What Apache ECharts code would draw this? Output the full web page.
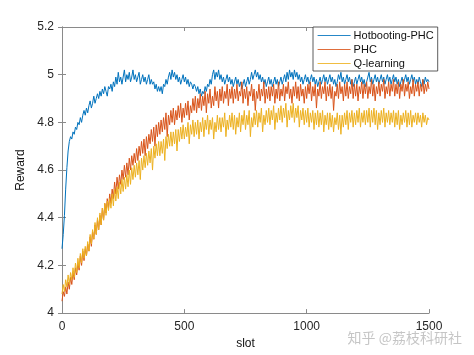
<!DOCTYPE html>
<html>
<head>
<meta charset="utf-8">
<script src="https://cdn.jsdelivr.net/npm/echarts@6/dist/echarts.min.js"></script>
<style>html,body{margin:0;padding:0;background:#fff}#c{width:474px;height:355px}</style>
</head>
<body>
<div id="c"></div>
<script>
const seriesNames = ['Hotbooting-PHC', 'PHC', 'Q-learning'];
const xTicks = [0, 500, 1000, 1500];
const yTicks = [4, 4.2, 4.4, 4.6, 4.8, 5, 5.2];
const slotStep = 5;

const hotbooting = [
4.27,4.33,4.41,4.52,4.61,4.68,4.72,4.74,4.73,4.76,
4.75,4.78,4.77,4.80,4.79,4.82,4.80,4.83,4.85,4.83,
4.86,4.84,4.87,4.89,4.86,4.88,4.91,4.88,4.90,4.92,
4.90,4.93,4.91,4.94,4.92,4.95,4.93,4.91,4.95,4.94,
4.96,4.93,4.97,4.95,4.99,4.96,5.01,4.97,4.99,4.96,
4.99,5.02,4.97,5.00,4.98,5.01,4.97,4.99,5.02,4.98,
5.00,4.97,4.99,5.01,4.96,4.98,5.00,4.97,4.99,4.96,
4.98,5.00,4.96,4.98,4.96,4.97,4.94,4.96,4.93,4.95,
4.93,4.95,4.92,4.96,4.95,4.98,4.96,4.99,5.01,4.98,
5.02,4.99,5.01,4.98,5.00,4.97,4.99,4.96,4.98,5.00,
4.97,4.99,4.96,4.98,4.95,4.97,4.96,4.94,4.96,4.95,
4.93,4.95,4.92,4.94,4.91,4.93,4.92,4.95,4.93,4.96,
4.95,4.98,4.96,5.00,5.02,4.98,5.01,4.99,5.02,4.98,
5.00,4.97,4.99,4.96,4.98,5.00,4.97,4.99,4.96,4.98,
4.95,4.97,4.99,4.96,4.98,4.95,4.97,4.94,4.96,4.98,
4.95,4.97,4.99,4.96,4.98,5.01,4.98,5.00,5.02,4.99,
5.01,4.98,5.00,4.97,4.99,4.96,4.98,4.95,4.97,4.99,
4.96,4.98,4.95,4.97,4.99,4.96,4.98,4.95,4.97,4.99,
4.96,4.98,5.00,4.97,5.01,4.98,5.02,4.99,5.01,4.98,
5.02,4.99,5.01,4.98,5.00,4.97,4.99,4.96,4.98,5.00,
4.97,4.99,4.96,4.98,5.00,4.97,4.99,4.96,4.98,4.95,
4.97,4.99,4.96,4.98,5.00,4.97,4.99,4.96,4.98,5.00,
4.97,4.99,4.96,4.98,4.95,4.97,5.00,4.98,5.01,4.97,
4.99,4.96,4.98,5.00,4.97,4.99,4.96,4.98,4.95,4.97,
4.99,4.96,4.98,5.00,4.97,4.99,4.96,4.98,4.95,4.97,
4.99,5.01,4.97,4.99,4.96,4.98,5.00,4.97,4.99,4.96,
4.98,5.00,4.97,4.99,4.96,4.98,5.00,4.97,4.99,4.96,
4.98,5.00,4.97,4.99,4.96,4.98,4.95,4.97,4.99,4.96,
4.98,5.00,4.97,4.99,4.96,4.98,5.00,4.97,4.99,4.96,
4.98,4.96,4.99,4.97,4.95,4.98,4.96,4.99,4.97,4.98,
4.97];

const phc = [
4.05,4.09,4.07,4.11,4.08,4.13,4.10,4.15,4.12,4.17,
4.14,4.19,4.16,4.21,4.18,4.24,4.20,4.26,4.22,4.27,
4.24,4.29,4.26,4.32,4.28,4.34,4.31,4.37,4.33,4.39,
4.35,4.41,4.37,4.44,4.39,4.46,4.42,4.48,4.44,4.50,
4.46,4.52,4.48,4.55,4.50,4.57,4.52,4.58,4.54,4.60,
4.56,4.62,4.57,4.63,4.58,4.65,4.60,4.66,4.62,4.67,
4.63,4.69,4.64,4.70,4.66,4.72,4.67,4.73,4.66,4.74,
4.69,4.75,4.71,4.77,4.72,4.78,4.70,4.79,4.74,4.80,
4.75,4.81,4.76,4.82,4.77,4.84,4.74,4.83,4.79,4.85,
4.80,4.86,4.79,4.85,4.81,4.87,4.82,4.88,4.80,4.86,
4.82,4.88,4.83,4.89,4.81,4.87,4.84,4.90,4.85,4.91,
4.84,4.90,4.86,4.92,4.85,4.91,4.87,4.93,4.84,4.92,
4.88,4.94,4.86,4.91,4.87,4.95,4.89,4.93,4.86,4.94,
4.89,4.95,4.88,4.93,4.90,4.96,4.87,4.94,4.90,4.95,
4.88,4.94,4.90,4.96,4.89,4.93,4.91,4.97,4.88,4.94,
4.90,4.95,4.87,4.93,4.91,4.96,4.89,4.94,4.85,4.93,
4.90,4.96,4.89,4.94,4.91,4.97,4.88,4.94,4.90,4.95,
4.89,4.95,4.91,4.96,4.88,4.94,4.90,4.97,4.89,4.94,
4.91,4.96,4.89,4.95,4.92,4.97,4.90,4.94,4.88,4.95,
4.91,4.97,4.90,4.95,4.89,4.96,4.91,4.94,4.88,4.95,
4.90,4.96,4.92,4.97,4.89,4.95,4.91,4.96,4.86,4.94,
4.91,4.97,4.90,4.95,4.92,4.97,4.89,4.95,4.91,4.96,
4.90,4.95,4.85,4.93,4.91,4.96,4.90,4.97,4.92,4.95,
4.89,4.96,4.91,4.97,4.90,4.95,4.92,4.98,4.90,4.96,
4.91,4.96,4.89,4.95,4.92,4.97,4.90,4.96,4.92,4.97,
4.90,4.95,4.92,4.98,4.91,4.96,4.89,4.95,4.92,4.97,
4.91,4.96,4.93,4.98,4.90,4.95,4.92,4.97,4.91,4.96,
4.93,4.98,4.91,4.96,4.92,4.97,4.90,4.96,4.93,4.98,
4.91,4.96,4.93,4.97,4.90,4.95,4.92,4.98,4.91,4.96,
4.93,4.97,4.91,4.96,4.93,4.98,4.92,4.96,4.93,4.97,
4.94];

const qlearning = [
4.08,4.12,4.09,4.14,4.11,4.16,4.12,4.17,4.14,4.19,
4.15,4.21,4.17,4.23,4.19,4.25,4.21,4.27,4.23,4.28,
4.24,4.30,4.26,4.33,4.29,4.35,4.31,4.38,4.33,4.40,
4.35,4.42,4.37,4.44,4.39,4.46,4.41,4.47,4.43,4.48,
4.44,4.50,4.45,4.52,4.47,4.53,4.48,4.55,4.50,4.56,
4.51,4.57,4.52,4.58,4.53,4.60,4.54,4.61,4.56,4.62,
4.57,4.63,4.58,4.64,4.56,4.65,4.60,4.66,4.61,4.67,
4.62,4.68,4.63,4.69,4.60,4.70,4.65,4.71,4.66,4.72,
4.66,4.72,4.67,4.73,4.64,4.74,4.69,4.75,4.70,4.76,
4.70,4.76,4.71,4.77,4.68,4.77,4.72,4.78,4.73,4.79,
4.73,4.78,4.74,4.80,4.71,4.79,4.75,4.81,4.74,4.80,
4.75,4.81,4.73,4.80,4.76,4.82,4.74,4.81,4.77,4.83,
4.75,4.81,4.77,4.82,4.73,4.80,4.76,4.83,4.77,4.82,
4.76,4.82,4.78,4.84,4.74,4.81,4.77,4.83,4.78,4.84,
4.77,4.83,4.75,4.82,4.78,4.84,4.76,4.83,4.79,4.85,
4.77,4.83,4.79,4.85,4.74,4.82,4.78,4.84,4.79,4.85,
4.78,4.84,4.80,4.86,4.76,4.83,4.79,4.85,4.80,4.86,
4.79,4.85,4.81,4.87,4.77,4.84,4.80,4.86,4.81,4.87,
4.80,4.86,4.82,4.88,4.78,4.85,4.81,4.87,4.82,4.88,
4.80,4.86,4.82,4.87,4.78,4.85,4.81,4.86,4.79,4.85,
4.80,4.86,4.78,4.84,4.80,4.85,4.77,4.84,4.79,4.85,
4.78,4.84,4.79,4.85,4.76,4.83,4.79,4.84,4.77,4.84,
4.78,4.83,4.76,4.82,4.79,4.84,4.77,4.83,4.75,4.83,
4.78,4.84,4.79,4.85,4.77,4.84,4.80,4.85,4.78,4.84,
4.79,4.85,4.80,4.86,4.78,4.84,4.80,4.85,4.79,4.85,
4.80,4.86,4.78,4.85,4.80,4.86,4.79,4.85,4.77,4.84,
4.79,4.85,4.80,4.86,4.78,4.84,4.80,4.85,4.79,4.84,
4.80,4.85,4.78,4.84,4.79,4.85,4.77,4.83,4.79,4.84,
4.80,4.85,4.78,4.84,4.79,4.85,4.78,4.83,4.80,4.84,
4.79,4.84,4.80,4.83,4.78,4.84,4.80,4.83,4.79,4.82,
4.81];

const colors = ['#0072BD', '#D95319', '#EDB120'];

function pairs(arr) {
  return arr.map((v, i) => [i * slotStep, v]);
}

const chart = echarts.init(document.getElementById('c'), null, {renderer: 'canvas'});
const axisColor = '#262626';
const boxColor = '#8a8a8a';
const font = 'Liberation Sans, Arial, Helvetica, sans-serif';

const xMin = xTicks[0], xMax = xTicks[xTicks.length - 1];
const yMin = yTicks[0], yMax = yTicks[yTicks.length - 1];

chart.setOption({
  animation: false,
  backgroundColor: '#fff',
  textStyle: {fontFamily: font},
  grid: {left: 62, right: 45, top: 27, bottom: 40, containLabel: false},
  legend: {
    data: seriesNames.map((n, i) => ({
      name: n,
      itemStyle: {opacity: 0},
      lineStyle: {color: colors[i], width: 1.2, opacity: 0.85}
    })),
    orient: 'vertical',
    left: 313, top: 27,
    padding: [3, 4, 2, 4],
    itemGap: 3,
    itemWidth: 33, itemHeight: 11,
    backgroundColor: '#fff',
    borderColor: '#333',
    borderWidth: 0.8,
    textStyle: {fontSize: 11, color: '#111', fontFamily: font, padding: [0, 0, 0, -2]}
  },
  xAxis: [{
    type: 'value', min: xMin, max: xMax, interval: 500, position: 'bottom',
    name: 'slot', nameLocation: 'middle', nameGap: 22,
    nameTextStyle: {fontSize: 12, color: '#111', fontFamily: font},
    axisLine: {show: true, lineStyle: {color: boxColor, width: 1}},
    axisTick: {show: true, inside: true, length: 4, lineStyle: {color: boxColor}},
    axisLabel: {fontSize: 12, color: axisColor, margin: 8, fontFamily: font, formatter: v => String(v)},
    splitLine: {show: false}
  }, {
    type: 'value', min: xMin, max: xMax, interval: 500, position: 'top',
    axisLine: {show: true, lineStyle: {color: boxColor, width: 1}},
    axisTick: {show: true, inside: true, length: 4, lineStyle: {color: boxColor}},
    axisLabel: {show: false}, splitLine: {show: false}
  }],
  yAxis: [{
    type: 'value', min: yMin, max: yMax, interval: 0.2, position: 'left',
    name: 'Reward', nameLocation: 'middle', nameGap: 26,
    nameTextStyle: {fontSize: 12, color: '#111', fontFamily: font},
    axisLine: {show: true, lineStyle: {color: boxColor, width: 1}},
    axisTick: {show: true, inside: true, length: 4, lineStyle: {color: boxColor}},
    axisLabel: {fontSize: 12, color: axisColor, margin: 8, fontFamily: font},
    splitLine: {show: false}
  }, {
    type: 'value', min: yMin, max: yMax, interval: 0.2, position: 'right',
    axisLine: {show: true, lineStyle: {color: boxColor, width: 1}},
    axisTick: {show: true, inside: true, length: 4, lineStyle: {color: boxColor}},
    axisLabel: {show: false}, splitLine: {show: false}
  }],
  series: [
    {name: seriesNames[0], type: 'line', data: pairs(hotbooting), symbol: 'none', color: colors[0], lineStyle: {width: 1, color: colors[0]}, z: 3},
    {name: seriesNames[1], type: 'line', data: pairs(phc), symbol: 'none', color: colors[1], lineStyle: {width: 1, color: colors[1]}, z: 4},
    {name: seriesNames[2], type: 'line', data: pairs(qlearning), symbol: 'none', color: colors[2], lineStyle: {width: 1, color: colors[2]}, z: 5}
  ],
  graphic: [{
    type: 'text', right: 12, bottom: 10, z: 100,
    style: {text: '知乎 @荔枝科研社', fontSize: 14, fill: 'rgba(150,150,150,0.55)', fontFamily: 'Noto Sans CJK SC, sans-serif'}
  }]
});
</script>
</body>
</html>
